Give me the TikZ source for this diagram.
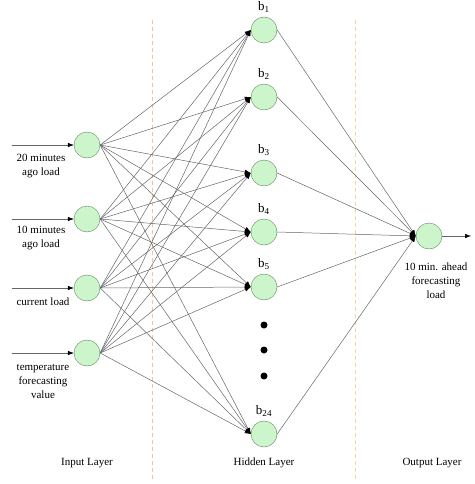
\documentclass[tikz,border=0pt]{standalone}
\usepackage{fontspec}
\setmainfont{Liberation Serif}
\usetikzlibrary{arrows.meta}
\definecolor{nodegreen}{RGB}{204,245,204}
\definecolor{nodeedge}{RGB}{95,135,95}
\definecolor{layerlineA}{RGB}{245,195,150}
\definecolor{layerlineB}{RGB}{235,220,150}
\begin{document}
\begin{tikzpicture}[x=1pt,y=-1pt,
	neuron/.style={circle,draw=nodeedge,fill=nodegreen,minimum size=26pt,inner sep=0pt},
	link/.style={draw=black!60,line width=0.5pt,-{Latex[length=6pt,width=4.5pt,black]}},
	layersep/.style={line width=0.8pt,dash pattern=on 4pt off 3pt},
	txt/.style={align=center,font=\fontsize{11}{14}\selectfont},
	blabel/.style={font=\fontsize{13}{15}\selectfont},
	bigdot/.style={circle,fill=black,inner sep=0pt,minimum size=7pt}]
	\useasboundingbox (0,0) rectangle (474,484);
	%Separators between the layers
	\coordinate (sepTop1) at (152,20);
	\coordinate (sepBot1) at (152,480);
	\coordinate (sepTop2) at (355,20);
	\coordinate (sepBot2) at (355,480);
	\draw [layersep,draw=layerlineA] (sepTop1) -- (sepBot1);
	\draw [layersep,draw=layerlineB] (sepTop2) -- (sepBot2);
	%Input layer
	\foreach \i/\y in {1/145,2/219,3/288,4/353} {
		\coordinate (start\i) at (12,\y);
		\node [neuron] (in\i) at (87,\y) {};
		\draw [link] (start\i) -- (in\i.west);
	}
	\node [txt] (inlab1) at (41,166) {20 minutes\\ago load};
	\node [txt] (inlab2) at (41,238) {10 minutes\\ago load};
	\node [txt] (inlab3) at (43,302) {current load};
	\node [txt] (inlab4) at (43,381) {temperature\\forecasting\\value};
	%Hidden layer
	\foreach \j/\y in {1/30,2/97,3/173,4/232,5/287,24/434} {
		\node [neuron] (hid\j) at (264,\y) {};
		\node [blabel] (blab\j) at (264,\y-23) {b\textsubscript{\j}};
	}
	%The dots
	\foreach \k/\y in {1/325,2/350,3/376} {
		\node [bigdot] (dot\k) at (264,\y) {};
	}
	%Output layer
	\node [neuron] (out) at (429,236) {};
	\coordinate (end) at (471,236);
	\draw [link] (out.east) -- (end);
	\node [txt] (outlab) at (436,281) {10 min. ahead\\forecasting\\load};
	%Connections input to hidden
	\foreach \i in {1,...,4} {
		\foreach \j in {1,2,3,4,5,24} {
			\draw [link] (in\i.east) -- (hid\j.west);
		}
	}
	%Connections hidden to output
	\foreach \j in {1,2,3,4,5,24} {
		\draw [link] (hid\j.east) -- (out.west);
	}
	%Layer names
	\node [txt] (inname) at (87,463) {Input Layer};
	\node [txt] (hidname) at (264,463) {Hidden Layer};
	\node [txt] (outname) at (432,463) {Output Layer};
\end{tikzpicture}
\end{document}
